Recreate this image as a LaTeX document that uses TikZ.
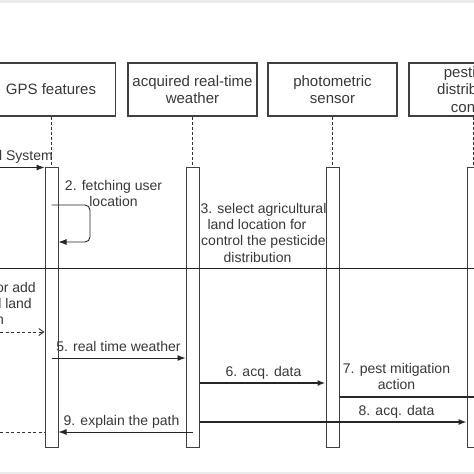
\documentclass[tikz,border=0pt]{standalone}
\usepackage{fontspec}
\setmainfont{Liberation Sans}
\usetikzlibrary{arrows.meta}
\begin{document}
\begin{tikzpicture}[x=1pt,y=-1pt,
  txt/.style={font=\fontsize{14}{16.5}\selectfont, text=black!78, inner sep=0pt, text height=10pt, text depth=0pt},
  hdr/.style={draw=black!75, line width=1.1pt, minimum width=129pt, minimum height=53pt,
    font=\fontsize{15}{17.5}\selectfont, text=black!78, align=center, inner sep=0pt},
  bar/.style={draw=black!75, fill=white, line width=1pt, minimum width=13pt, minimum height=280pt, inner sep=0pt},
  life/.style={draw=black!80, line width=0.9pt, dash pattern=on 3pt off 2pt},
  msg/.style={draw=black!85, line width=0.9pt, -{Latex[length=8pt,width=6pt]}},
  plain/.style={draw=black!85, line width=0.9pt},
  dsh/.style={draw=black!80, line width=0.9pt, dash pattern=on 3pt off 2.5pt},
]
\useasboundingbox (0,0) rectangle (474,474);
\fill[black!8] (0,0) rectangle (474,2.5);
\fill[black!8] (0,471.5) rectangle (474,474);
\clip (0,0) rectangle (474,474);

% headers
\node[hdr] (h1) at (51,89.5) {GPS features};
\node[hdr] (h2) at (192.5,89.5) {acquired real-time\\weather};
\node[hdr] (h3) at (332.5,89.5) {photometric\\sensor};
\node[hdr] (h4) at (473.5,89.5) {pesticide\\distribution\\control};

% activation bars
\node[bar] (b1) at (51.5,307) {};
\node[bar] (b2) at (192.5,307) {};
\node[bar] (b3) at (332.5,307) {};
\node[bar] (b4) at (473.5,307) {};

% lifelines
\draw[life] (h1.south -| b1) -- (b1.north);
\draw[life] (h2.south) -- (b2.north);
\draw[life] (h3.south) -- (b3.north);
\draw[life] (h4.south) -- (b4.north);

% divider
\coordinate (dl) at (0,268);
\coordinate (dr) at (474,268);
\draw[plain] (dl) -- (dr);

% message 1
\coordinate (m1) at (0,167.5);
\draw[msg] (m1) -- (b1.west |- m1);
\node[txt, anchor=east] (t1) at (53,155) {l System};

% message 2 (self)
\coordinate (m2a) at (90,205);
\coordinate (m2b) at (90,242);
\draw[msg, rounded corners=5pt] (b1 |- m2a) -- (m2a) -- (m2b) -- (b1.east |- m2b);
\node[txt] (t2a) at (113.5,185) {2. fetching user};
\node[txt] (t2b) at (113.5,201.5) {location};

% message 3 label
\node[txt] (t3a) at (263.5,208.3) {3. select agricultural};
\node[txt] (t3b) at (257,224.5) {land location for};
\node[txt] (t3c) at (263.5,240.8) {control the pesticide};
\node[txt] (t3d) at (257.5,257.2) {distribution};

% message 4
\node[txt, anchor=east] (t4a) at (36,287.3) {or add};
\node[txt, anchor=east] (t4b) at (32,303.5) {l land};
\node[txt, anchor=east] (t4c) at (4,319.8) {n};
\coordinate (m4) at (0,332);
\draw[dsh, -{Straight Barb[length=5pt,width=7pt]}] (m4) -- (b1.west |- m4);

% message 5
\coordinate (m5) at (0,358);
\draw[msg] (b1 |- m5) -- (b2.west |- m5);
\node[txt] (t5) at (118.5,346.7) {5. real time weather};

% message 6
\coordinate (m6) at (0,383);
\draw[msg, line width=1.6pt] (b2.east |- m6) -- (b3.west |- m6);
\node[txt] (t6) at (263.5,371.7) {6. acq. data};

% message 7
\coordinate (m7) at (474,397);
\draw[plain, line width=1.1pt] (b3.east |- m7) -- (m7);
\node[txt] (t7a) at (396.5,368.5) {7. pest mitigation};
\node[txt] (t7b) at (396.5,384.5) {action};

% message 8
\coordinate (m8) at (0,422);
\draw[msg, line width=1.1pt] (b2.east |- m8) -- (b4.west |- m8);
\node[txt] (t8) at (396.5,410) {8. acq. data};

% message 9
\coordinate (m9) at (0,432);
\draw[msg] (b2 |- m9) -- (b1.east |- m9);
\draw[dsh] (m9) -- (b1.west |- m9);
\node[txt] (t9) at (121.5,420) {9. explain the path};
\end{tikzpicture}
\end{document}
